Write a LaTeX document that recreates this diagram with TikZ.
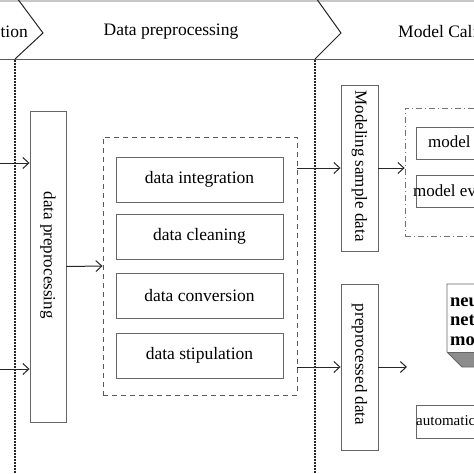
\documentclass[tikz,border=0pt]{standalone}
\usepackage{fontspec}
\setmainfont{Liberation Serif}
\usetikzlibrary{arrows.meta}
\begin{document}
\begin{tikzpicture}[x=1pt,y=-1pt,
  box/.style={draw=black!60, line width=0.9pt, fill=white, inner sep=0pt},
  arr/.style={-{Straight Barb[length=6pt,width=11pt]}, line width=1pt, draw=black!85},
  lbl/.style={font=\fontsize{17.5}{20}\selectfont, inner sep=0pt},
  vlbl/.style={font=\fontsize{17}{20}\selectfont, inner sep=0pt, rotate=-90},
  sep/.style={draw=black!85, line width=1.6pt, dash pattern=on 1.6pt off 1.4pt},
  chev/.style={draw=black!85, line width=1pt}
]
\useasboundingbox (0,0) rectangle (474,474);
\clip (0,0) rectangle (474,474);
\fill[white] (0,0) rectangle (474,474);

% header
\draw[black!22, line width=3pt] (0,0.5) -- (474,0.5);
\draw[black!65, line width=1pt] (0,59) -- (474,59);
\draw[chev] (17,-2) -- (43,33) -- (15,59);
\draw[chev] (316,-2) -- (341,33) -- (315,59);
\node[lbl, anchor=east] (h1) at (28,32) {Data collection};
\node[lbl] (h2) at (171,32) {Data preprocessing};
\node[lbl, anchor=west] (h3) at (398,32) {Model Calibration};

% phase separators
\draw[sep] (15,60) -- (15,474);
\draw[sep] (315,60) -- (315,474);

% left column box
\node[box, minimum width=36pt, minimum height=311pt] (dp) at (48,266.5) {};
\node[vlbl] (dpt) at (48,255) {data preprocessing};
\coordinate (in1) at (0,163);
\coordinate (in2) at (0,369);
\draw[arr] (in1) -- (in1 -| dp.west);
\draw[arr] (in2) -- (in2 -| dp.west);

% dashed group
\node[draw=black!65, line width=0.9pt, dash pattern=on 5pt off 4pt, minimum width=194pt, minimum height=258pt, inner sep=0pt] (grp) at (200,266) {};
\node[box, minimum width=167pt, minimum height=45pt, font=\fontsize{17.5}{20}\selectfont] (b1) at (199.5,179.5) {data integration};
\node[box, minimum width=167pt, minimum height=45pt, font=\fontsize{17.5}{20}\selectfont] (b2) at (199.5,236.5) {data cleaning};
\node[box, minimum width=167pt, minimum height=45pt, font=\fontsize{17.5}{20}\selectfont] (b3) at (199.5,295.5) {data conversion};
\node[box, minimum width=167pt, minimum height=45pt, font=\fontsize{17.5}{20}\selectfont] (b4) at (199.5,355.5) {data stipulation};
\draw[arr] (dp.east) -- (grp.west);

% model calibration column
\node[box, minimum width=37pt, minimum height=166pt] (ms) at (359.5,168) {};
\node[vlbl] (mst) at (359.5,166) {Modeling sample data};
\node[box, minimum width=37pt, minimum height=166pt] (pp) at (359.5,367) {};
\node[vlbl] (ppt) at (359.5,364.5) {preprocessed data};
\draw[arr] (grp.east |- ms.west) -- (ms.west);
\draw[arr] (grp.east |- pp.west) -- (pp.west);

% dash-dot group
\node[draw=black!55, line width=0.8pt, dash pattern=on 6pt off 3pt on 1pt off 3pt, minimum width=120pt, minimum height=128pt, inner sep=0pt] (mg) at (465,172) {};
\node[box, minimum width=90pt, minimum height=32pt] (m1) at (461,143) {};
\node[lbl, anchor=west, font=\fontsize{17}{20}\selectfont] (m1t) at (428,143) {model training};
\node[box, minimum width=90pt, minimum height=32pt] (m2) at (461,191) {};
\node[lbl, anchor=west, font=\fontsize{17}{20}\selectfont] (m2t) at (413,191) {model evaluation};
\draw[arr] (ms.east) -- (mg.west |- ms.east);

\coordinate (ppend) at (407,367);
\draw[arr] (pp.east) -- (ppend);

% neural network model (beveled box)
\fill[black!45] (447,352) -- (490,352) -- (490,367) -- (462,367) -- cycle;
\draw[black!60, line width=0.9pt] (490,284) -- (447,284) -- (447,352) -- (462,367) -- (490,367);
\draw[black!60, line width=0.6pt] (447,352) -- (490,352);
\node[anchor=north west, align=left, inner sep=0pt, font=\fontsize{18.5}{19.5}\selectfont\bfseries] (nn) at (450,293) {neural\\network\\model};

% automatic box
\node[box, minimum width=80pt, minimum height=33pt] (au) at (456,421.5) {};
\node[lbl, anchor=west, font=\fontsize{15}{18}\selectfont] (aut) at (416,421.5) {automatic modeling};
\end{tikzpicture}
\end{document}
